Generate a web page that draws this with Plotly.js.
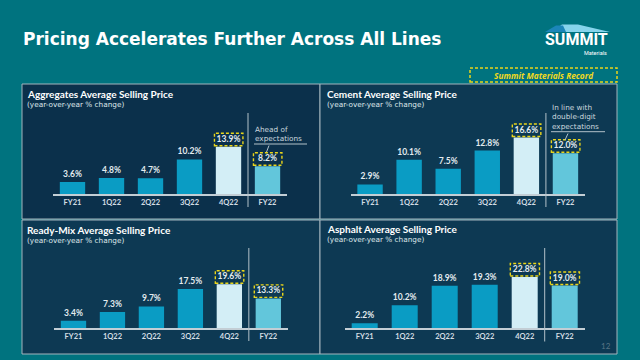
<!DOCTYPE html>
<html><head><meta charset="utf-8">
<script src="https://cdn.plot.ly/plotly-3.0.1.min.js"></script>
<style>html,body{margin:0;padding:0;background:#00737f;}#chart{width:640px;height:360px;}</style>
</head><body><div id="chart"></div>
<script>
// ---- DATA ----
const categories = ['FY21', '1Q22', '2Q22', '3Q22', '4Q22', 'FY22'];
const aggregatesValues = [3.6, 4.8, 4.7, 10.2, 13.9, 8.2];
const cementValues = [2.9, 10.1, 7.5, 12.8, 16.6, 12.0];
const readyMixValues = [3.4, 7.3, 9.7, 17.5, 19.6, 13.3];
const asphaltValues = [2.2, 10.2, 18.9, 19.3, 22.8, 19.0];
const recordFlags = [false, false, false, false, true, true];
const panelTitles = ['Aggregates Average Selling Price', 'Cement Average Selling Price',
                     'Ready-Mix Average Selling Price', 'Asphalt Average Selling Price'];
const panelSubtitle = '(year-over-year % change)';
const mainTitle = 'Pricing Accelerates Further Across All Lines';
const legendLabel = 'Summit Materials Record';
const aggregatesNote = 'Ahead of<br>expectations';
const cementNote = 'In line with<br>double-digit<br>expectations';

// ---- STYLE / LAYOUT ----
const W = 640, H = 360;
const px = x => x / W, py = y => 1 - y / H;
const FONT = 'Lato, "Open Sans", sans-serif';
const WIDE = '"DejaVu Sans", sans-serif';
const barColors = ['#0a9cc4', '#0a9cc4', '#0a9cc4', '#0a9cc4', '#d3eef6', '#62c6db'];
const yellow = '#e9d51b';

const panels = [
  {vals: aggregatesValues, box: [22, 84, 320, 219], bg: '#0b304b', xd: [53, 287], base: 194.3, scale: 3.42, ymax: 25, title: [25, 94.5], sep: [113, 207]},
  {vals: cementValues, box: [320, 84, 617, 219], bg: '#0d3953', xd: [350.5, 585], base: 194.3, scale: 3.42, ymax: 25, title: [325, 94.5], sep: [113, 207]},
  {vals: readyMixValues, box: [22, 220, 320, 354], bg: '#0d3953', xd: [54, 287.8], base: 328.3, scale: 2.25, ymax: 35, title: [25, 230], sep: [248, 341]},
  {vals: asphaltValues, box: [320, 220, 617, 354], bg: '#0d3953', xd: [344.7, 584.7], base: 328.3, scale: 2.25, ymax: 35, title: [325, 229], sep: [248, 341.5]}
];

const data = [];
const shapes = [];
const annotations = [];
const layout = {
  width: W, height: H, margin: {l: 0, r: 0, t: 0, b: 0},
  paper_bgcolor: '#00737f', plot_bgcolor: 'rgba(0,0,0,0)',
  showlegend: false, font: {family: FONT, color: '#ffffff'},
  shapes: shapes, annotations: annotations
};

panels.forEach((p, k) => {
  const n = k === 0 ? '' : String(k + 1);
  const xa = 'x' + n, ya = 'y' + n;
  shapes.push({type: 'rect', xref: 'paper', yref: 'paper', layer: 'below',
    x0: px(p.box[0]), x1: px(p.box[2]), y0: py(p.box[3]), y1: py(p.box[1]),
    fillcolor: p.bg, line: {color: '#a3b4bd', width: 1}});
  data.push({
    type: 'bar', x: categories, y: p.vals, xaxis: xa, yaxis: ya, width: 0.65,
    marker: {color: barColors, line: {width: 0}},
    text: p.vals.map(v => v.toFixed(1) + '%'), textposition: 'outside', cliponaxis: false,
    constraintext: 'none', textangle: 0,
    textfont: {family: FONT, size: 8.5, color: '#e3ebef', weight: 'bold'},
    hoverinfo: 'skip'
  });
  layout['xaxis' + n] = {
    domain: [px(p.xd[0]), px(p.xd[1])], anchor: ya, type: 'category',
    showline: true, linecolor: '#c3ced5', linewidth: 1.5, ticks: '', showgrid: false, zeroline: false,
    tickfont: {family: FONT, size: 7.5, color: '#d3dde3', weight: 'bold'}, fixedrange: true
  };
  layout['yaxis' + n] = {
    domain: [py(p.base), py(p.base - p.ymax * p.scale)], anchor: xa, range: [0, p.ymax],
    showline: false, showticklabels: false, showgrid: false, zeroline: false, fixedrange: true
  };
  shapes.push({type: 'line', xref: xa, yref: 'paper', x0: 4.5, x1: 4.5,
    y0: py(p.sep[1]), y1: py(p.sep[0]), line: {color: '#b3c2ca', width: 1}});
  p.vals.forEach((v, i) => {
    if (!recordFlags[i]) return;
    shapes.push({type: 'rect', xref: xa, yref: ya, ysizemode: 'pixel', yanchor: v,
      x0: i - 0.36, x1: i + 0.37, y0: 1, y1: 13.5,
      line: {color: yellow, width: 1.4, dash: '3px,2px'}, fillcolor: 'rgba(0,0,0,0)'});
  });
  annotations.push({xref: 'paper', yref: 'paper', x: px(p.title[0]), y: py(p.title[1]),
    xanchor: 'left', yanchor: 'middle', showarrow: false, text: '<b>' + panelTitles[k] + '</b>',
    font: {family: FONT, size: 10, color: '#ffffff'}});
  annotations.push({xref: 'paper', yref: 'paper', x: px(p.title[0]), y: py(p.title[1] + 10),
    xanchor: 'left', yanchor: 'middle', showarrow: false, text: panelSubtitle,
    font: {family: WIDE, size: 7.3, color: '#dfe7eb'}});
});

// notes
annotations.push({xref: 'paper', yref: 'paper', x: px(253), y: py(133.5), xanchor: 'left', yanchor: 'middle',
  showarrow: false, align: 'left', text: aggregatesNote, font: {family: WIDE, size: 7.3, color: '#c9d6dd'}});
shapes.push({type: 'line', xref: 'paper', yref: 'paper', x0: px(254), x1: px(307), y0: py(144), y1: py(144), line: {color: '#b3c2ca', width: 1}});
shapes.push({type: 'line', xref: 'paper', yref: 'paper', x0: px(269), x1: px(266.5), y0: py(145.5), y1: py(152), line: {color: '#b3c2ca', width: 1}});
annotations.push({xref: 'paper', yref: 'paper', x: px(550), y: py(117.5), xanchor: 'left', yanchor: 'middle',
  showarrow: false, align: 'left', text: cementNote, font: {family: WIDE, size: 7.3, color: '#c9d6dd'}});
shapes.push({type: 'line', xref: 'paper', yref: 'paper', x0: px(551), x1: px(605), y0: py(131.7), y1: py(131.7), line: {color: '#b3c2ca', width: 1}});
shapes.push({type: 'line', xref: 'paper', yref: 'paper', x0: px(568), x1: px(565), y0: py(133.5), y1: py(140), line: {color: '#b3c2ca', width: 1}});

// main title
annotations.push({xref: 'paper', yref: 'paper', x: px(21), y: py(39), xanchor: 'left', yanchor: 'middle',
  showarrow: false, text: '<b>' + mainTitle + '</b>', font: {family: WIDE, size: 17, color: '#ffffff'}});

// legend box
shapes.push({type: 'rect', xref: 'paper', yref: 'paper', x0: px(470), x1: px(617), y0: py(82), y1: py(68),
  line: {color: yellow, width: 1.5, dash: '3px,2px'}, fillcolor: 'rgba(0,0,0,0)'});
annotations.push({xref: 'paper', yref: 'paper', x: px(543.5), y: py(75), xanchor: 'center', yanchor: 'middle',
  showarrow: false, text: '<b><i>' + legendLabel + '</i></b>', font: {family: '"Open Sans", sans-serif', size: 8.3, color: '#f0da1e'}});

// logo
shapes.push({type: 'path', xref: 'paper', yref: 'paper', layer: 'above',
  path: `M ${px(552)},${py(32)} L ${px(562)},${py(24.5)} L ${px(578)},${py(24.5)} L ${px(610)},${py(32)} Z`,
  fillcolor: '#86d4ec', line: {width: 0}});
shapes.push({type: 'path', xref: 'paper', yref: 'paper', layer: 'above',
  path: `M ${px(545)},${py(32)} L ${px(556)},${py(25.5)} L ${px(563)},${py(25.5)} L ${px(566)},${py(32)} Z`,
  fillcolor: '#1b86b9', line: {width: 0}});
annotations.push({xref: 'paper', yref: 'paper', x: px(576.5), y: py(39), xanchor: 'center', yanchor: 'middle',
  showarrow: false, text: '<b>SUMMIT</b>', font: {family: 'Roboto, sans-serif', size: 16, color: '#ffffff'}});
annotations.push({xref: 'paper', yref: 'paper', x: px(609), y: py(52.5), xanchor: 'right', yanchor: 'middle',
  showarrow: false, text: 'Materials', font: {family: 'Roboto, sans-serif', size: 5.5, color: '#ffffff'}});

// page number
annotations.push({xref: 'paper', yref: 'paper', x: px(606), y: py(346), xanchor: 'center', yanchor: 'middle',
  showarrow: false, text: '12', font: {family: FONT, size: 8, color: '#5a7586'}});

Plotly.newPlot('chart', data, layout, {staticPlot: true, displayModeBar: false});
</script></body></html>
